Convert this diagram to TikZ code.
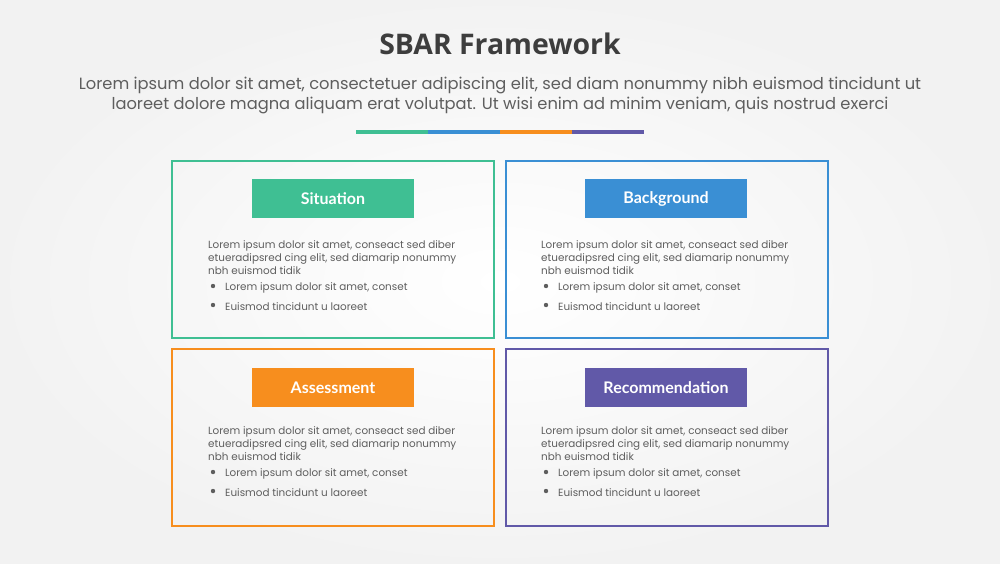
\documentclass[tikz,border=0pt]{standalone}
\usepackage{fontspec}
\setmainfont{Poppins}
\newfontfamily\titlefont{Open Sans}
\newfontfamily\tagfont{Lato}
\usetikzlibrary{calc}
\definecolor{sbargreen}{HTML}{3FBF93}
\definecolor{sbarblue}{HTML}{3A8FD4}
\definecolor{sbarorange}{HTML}{F78E1E}
\definecolor{sbarpurple}{HTML}{6159A8}
\definecolor{titlegray}{HTML}{3D3D3D}
\definecolor{bodygray}{HTML}{5E5E5E}
\def\bodytext{Lorem ipsum dolor sit amet, conseact sed diber\\etueradipsred cing elit, sed diamarip nonummy\\nbh euismod tidik}
\tikzset{
  frame/.style={line width=2.4pt},
  tagbox/.style={minimum width=162, minimum height=39, inner sep=0pt, text=white, font=\tagfont\bfseries\fontsize{16}{18}\selectfont},
  body/.style={anchor=north west, inner sep=0pt, align=left, text=bodygray, font=\fontsize{10.4}{13}\selectfont},
  item/.style={anchor=west, inner sep=0pt, text=bodygray, font=\fontsize{10.4}{13}\selectfont},
}

\begin{document}
\begin{tikzpicture}[x=1pt, y=-1pt]
			%%%%% START %%%%%
			\useasboundingbox (0,0) rectangle (1000,563);
			\shade[inner color=white, outer color=black!5] (0,0) rectangle (1000,563);
			
			\node[text=titlegray, font=\titlefont\bfseries\fontsize{28.4}{32}\selectfont] (title) at (500,44) {SBAR Framework};
			\node[text=bodygray, align=center, font=\fontsize{16.3}{20}\selectfont] (intro) at (500,95.5)
				{Lorem ipsum dolor sit amet, consectetuer adipiscing elit, sed diam nonummy nibh euismod tincidunt ut\\laoreet dolore magna aliquam erat volutpat. Ut wisi enim ad minim veniam, quis nostrud exerci};
			
			\draw[line width=3.2pt, sbargreen] (356,132) -- (428,132);
			\draw[line width=3.2pt, sbarblue] (428,132) -- (500,132);
			\draw[line width=3.2pt, sbarorange] (500,132) -- (572,132);
			\draw[line width=3.2pt, sbarpurple] (572,132) -- (644,132);
			
			% situation
			\draw[frame, sbargreen] (172,161) rectangle (494,338);
			\node[tagbox, fill=sbargreen] (situation) at (333,198.5) {Situation};
			\node[body] (situation-text) at (208,240) {\bodytext};
			\fill[bodygray] (213,286) circle (2.2);
			\node[item] (situation-a) at (225,287.5) {Lorem ipsum dolor sit amet, conset};
			\fill[bodygray] (213,305) circle (2.2);
			\node[item] (situation-b) at (225,306.5) {Euismod tincidunt u laoreet};
			
			% background
			\draw[frame, sbarblue] (506,161) rectangle (828,338);
			\node[tagbox, fill=sbarblue] (background) at (666,198.5) {Background};
			\node[body] (background-text) at (541,240) {\bodytext};
			\fill[bodygray] (546,286) circle (2.2);
			\node[item] (background-a) at (558,287.5) {Lorem ipsum dolor sit amet, conset};
			\fill[bodygray] (546,305) circle (2.2);
			\node[item] (background-b) at (558,306.5) {Euismod tincidunt u laoreet};
			
			% assessment
			\draw[frame, sbarorange] (172,349) rectangle (494,526);
			\node[tagbox, fill=sbarorange] (assessment) at (333,387.5) {Assessment};
			\node[body] (assessment-text) at (208,426) {\bodytext};
			\fill[bodygray] (213,472) circle (2.2);
			\node[item] (assessment-a) at (225,473.5) {Lorem ipsum dolor sit amet, conset};
			\fill[bodygray] (213,491) circle (2.2);
			\node[item] (assessment-b) at (225,492.5) {Euismod tincidunt u laoreet};
			
			% recommendation
			\draw[frame, sbarpurple] (506,349) rectangle (828,526);
			\node[tagbox, fill=sbarpurple] (recommendation) at (666,387.5) {Recommendation};
			\node[body] (recommendation-text) at (541,426) {\bodytext};
			\fill[bodygray] (546,472) circle (2.2);
			\node[item] (recommendation-a) at (558,473.5) {Lorem ipsum dolor sit amet, conset};
			\fill[bodygray] (546,491) circle (2.2);
			\node[item] (recommendation-b) at (558,492.5) {Euismod tincidunt u laoreet};
			
			%%%%% END %%%%%
		\end{tikzpicture}
\end{document}
